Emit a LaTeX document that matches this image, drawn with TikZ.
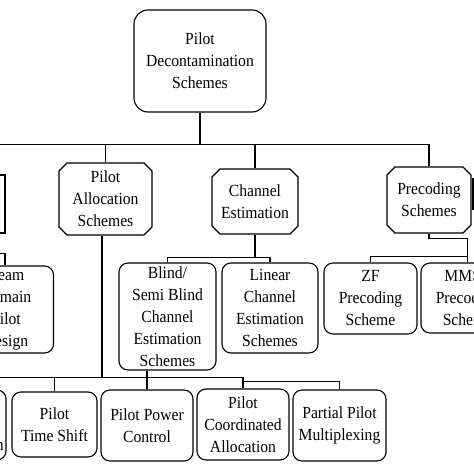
\documentclass[tikz,border=0pt]{standalone}
\usepackage{fontspec}
\setmainfont{Liberation Serif}[FakeStretch=0.92]
\usetikzlibrary{shapes.misc}

\tikzset{
  box/.style={draw, line width=1.1pt, align=center, inner sep=0pt,
              font=\fontsize{17}{22}\selectfont},
  rbox/.style={box, rounded corners=9pt},
  obox/.style={box, chamfered rectangle, chamfered rectangle xsep=4pt,
               chamfered rectangle ysep=4pt},
  link/.style={line width=1.1pt},
}

\begin{document}
\begin{tikzpicture}[x=1pt, y=-1pt]
\useasboundingbox (0,0) rectangle (474,474);
\clip (0,0) rectangle (474,474);

% root
\node[rbox, rounded corners=14pt, minimum width=132, minimum height=102] (top) at (200,61)
  {Pilot\\Decontamination\\Schemes};

% second level
\node[obox, minimum width=90, minimum height=58] (lefttop) at (-40,204) {};
\node[obox, minimum width=93, minimum height=72] (alloc) at (105.5,199) {Pilot\\Allocation\\Schemes};
\node[obox, minimum width=86, minimum height=65] (chest) at (255,201.5) {Channel\\Estimation};
\node[obox, minimum width=84, minimum height=66] (precod) at (429,200) {Precoding\\Schemes};
\fill (472,178) rectangle (476,210);

% third level
\node[rbox, minimum width=95, minimum height=87] (beam) at (6,309.5) {Beam\\Domain\\Pilot\\Design};
\node[rbox, minimum width=97, minimum height=107] (blind) at (167.5,316.5)
  {Blind/\\Semi Blind\\Channel\\Estimation\\Schemes};
\node[rbox, minimum width=96, minimum height=90] (linear) at (270,308) {Linear\\Channel\\Estimation\\Schemes};
\node[rbox, minimum width=93, minimum height=71] (zf) at (370.5,298.5) {ZF\\Precoding\\Scheme};
\node[rbox, minimum width=93, minimum height=70] (mmse) at (467.5,298) {MMSE\\Precoding\\Scheme};

% bottom row
\node[rbox, minimum width=92, minimum height=70] (leftbot) at (-40,425) {};
\node[anchor=east, inner sep=0pt, font=\fontsize{17}{22}\selectfont] (lbtext) at (4,446) {n};
\node[rbox, minimum width=85, minimum height=65] (shift) at (54.5,424.5) {Pilot\\Time Shift};
\node[rbox, minimum width=92, minimum height=71] (power) at (147,425.5) {Pilot Power\\Control};
\node[rbox, minimum width=92, minimum height=71] (coord) at (243,424.5) {Pilot\\Coordinated\\Allocation};
\node[rbox, minimum width=93, minimum height=71] (partial) at (339.5,425.5) {Partial Pilot\\Multiplexing};

% connectors
\draw[link] (top.south) -- ++(0,32) coordinate (hub);
\foreach \n in {lefttop, alloc, chest, precod}
  \draw[link] (\n.north) |- (hub);

\draw[link] (lefttop.south) -- ++(0,20) -| ([xshift=-1pt]beam.north);

\draw[link] ([xshift=-3.5pt]alloc.south) -- ++(0,142) coordinate (aj);
\foreach \n in {leftbot, shift, coord}
  \draw[link] (\n.north) |- (aj);
\draw[link] (power.north) -- (power.north |- blind.south);
\draw[link] (coord.north) -- ++(0,-7) -| (partial.north);

\draw[link] (chest.south) -- ++(0,23) coordinate (chj);
\draw[link] (blind.north) |- (chj) -| (linear.north);

\draw[link] (precod.south) -- ++(0,5) -| (mmse.north);
\draw[link] (zf.north) -- ++(0,-6) -| (mmse.north);
\end{tikzpicture}
\end{document}
